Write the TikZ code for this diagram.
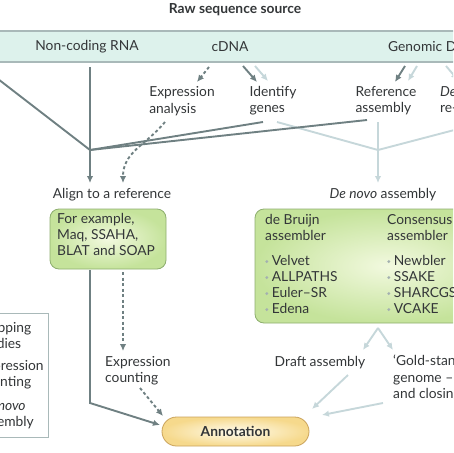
\documentclass[tikz,border=0pt]{standalone}
\usepackage{fontspec}
\setmainfont{Lato}
\usetikzlibrary{arrows.meta}
\definecolor{darkln}{HTML}{6F8082}
\definecolor{lightln}{HTML}{C6D7DA}
\definecolor{txt}{HTML}{333638}
\definecolor{bandfill}{HTML}{DDF2EC}
\definecolor{bandline}{HTML}{A9B9B9}
\definecolor{grin}{HTML}{F2F9DF}
\definecolor{grout}{HTML}{C5E39B}
\definecolor{grline}{HTML}{8DAE6E}
\definecolor{yin}{HTML}{FFFCEE}
\definecolor{yout}{HTML}{F6D98C}
\definecolor{yline}{HTML}{C9A25A}
\definecolor{bul}{HTML}{A3B0B0}
\tikzset{
  lbl/.style={text=txt, font=\fontsize{13.8}{16.3}\selectfont, inner sep=0pt, align=left},
  darkarrow/.style={draw=darkln, line width=1.9pt, -{Latex[length=7pt,width=6.5pt]}},
  darkline/.style={draw=darkln, line width=1.9pt},
  dasharrow/.style={draw=darkln, line width=1.9pt, dash pattern=on 3pt off 2.5pt, -{Latex[length=7pt,width=6.5pt]}},
  lightarrow/.style={draw=lightln, line width=1.9pt, -{Latex[length=7pt,width=6.5pt]}},
  lightline/.style={draw=lightln, line width=1.9pt},
  greenbox/.style={draw=grline, line width=0.8pt, inner color=grin, outer color=grout, rounded corners=9pt},
}
\newcommand{\bu}{\tikz[baseline=-3.8pt]\fill[bul] (0,0) circle (1.6pt);\hspace{3.5pt}}
\begin{document}
\begin{tikzpicture}[x=1pt,y=1pt]
\useasboundingbox (0,0) rectangle (453,-453);
\clip (0,0) rectangle (453,-453);
% title
\node[lbl, font=\bfseries\fontsize{13.8}{16}\selectfont] (title) at (235,-10) {Raw sequence source};
% band
\fill[bandfill] (-2,-31) rectangle (456,-62);
\draw[bandline, line width=1.2pt] (-2,-31) -- (456,-31) (-2,-62) -- (456,-62);
\node[lbl] (ncrna) at (87,-47) {Non-coding RNA};
\node[lbl] (cdna) at (230,-47) {cDNA};
\node[lbl, anchor=west] (gdna) at (388,-47) {Genomic DNA};
% second row labels
\node[lbl] (expan) at (182,-101) {Expression\\analysis};
\node[lbl] (ident) at (273,-101) {Identify\\genes};
\node[lbl] (refasm) at (386,-101) {Reference\\assembly};
\node[lbl, anchor=west] (dnseq) at (440,-101) {\textit{De novo}\\re-sequencing};
% short arrows from band
\coordinate (c1) at (209,-67); \coordinate (c1e) at (197,-82);
\coordinate (c2) at (243,-66); \coordinate (c2e) at (257,-82);
\coordinate (c3) at (255,-66); \coordinate (c3e) at (268,-81);
\coordinate (g1) at (405,-66); \coordinate (g1e) at (395,-82);
\coordinate (g2) at (417,-66); \coordinate (g2e) at (408,-81);
\coordinate (g3) at (446,-66); \coordinate (g3e) at (458,-80);
\draw[lightarrow] (c3) -- (c3e);
\draw[lightarrow] (g2) -- (g2e);
\draw[lightarrow] (g3) -- (g3e);
\draw[dasharrow] (c1) -- (c1e);
\draw[darkarrow] (c2) -- (c2e);
\draw[darkarrow] (g1) -- (g1e);
% light de novo junction
\coordinate (jl) at (378,-150);
\coordinate (idb) at (277,-122);
\coordinate (rab) at (378,-122);
\coordinate (dnb) at (462,-128);
\coordinate (dnt) at (378,-183);
\draw[lightline] (idb) -- (jl);
\draw[lightline] (rab) -- (jl);
\draw[lightline] (dnb) -- (jl);
\draw[lightarrow] (jl) -- (dnt);
% dark mapping junction
\coordinate (j1) at (90,-150);
\coordinate (ltop) at (90,-67);
\coordinate (lfree) at (-2,-79);
\coordinate (idb2) at (263,-122);
\coordinate (rab2) at (367,-120);
\coordinate (alt) at (90,-183);
\draw[darkline] (lfree) -- (j1);
\draw[darkline] (j1) -- (idb2);
\draw[darkline] (j1) -- (rab2);
\draw[darkarrow] (ltop) -- (alt);
% expression analysis dashed
\coordinate (eab) at (165,-122);
\coordinate (alt2) at (123,-183);
\draw[dasharrow] (eab) .. controls (145,-146) and (123,-152) .. (alt2);
% headings
\node[lbl] (align) at (112,-195) {Align to a reference};
\node[lbl] (dnasm) at (383,-195) {\textit{De novo} assembly};
% left green box
\node[greenbox, minimum width=116pt, minimum height=60pt, inner sep=0pt] (lbox) at (108,-239) {};
\node[lbl, anchor=north west] (ltxt) at (57,-213) {For example,\\Maq, SSAHA,\\BLAT and SOAP};
% right green box
\node[greenbox, minimum width=265pt, minimum height=114pt, inner sep=0pt] (rbox) at (387.5,-266) {};
\node[lbl, anchor=north west] (dbg) at (265,-214) {de Bruijn\\assembler};
\node[lbl, anchor=north west, font=\fontsize{13.8}{16}\selectfont] (dbgl) at (265,-255) {\bu Velvet\\\bu ALLPATHS\\\bu Euler--SR\\\bu Edena};
\node[lbl, anchor=north west] (cns) at (387,-214) {Consensus\\assembler};
\node[lbl, anchor=north west, font=\fontsize{13.8}{16}\selectfont] (cnsl) at (387,-255) {\bu Newbler\\\bu SSAKE\\\bu SHARCGS\\\bu VCAKE};
% fork below right box
\coordinate (fk) at (378,-328);
\coordinate (fkl) at (363,-350);
\coordinate (fkr) at (393,-350);
\draw[lightarrow] (fk) -- (fkl);
\draw[lightarrow] (fk) -- (fkr);
\node[lbl] (draft) at (320,-363) {Draft assembly};
\node[lbl, anchor=west] (gold) at (393,-378) {`Gold-standard'\\genome -- finishing\\and closing};
% annotation
\node[draw=yline, line width=0.8pt, inner color=yin, outer color=yout, rounded corners=14.5pt, minimum width=147pt, minimum height=29pt, text=txt, font=\bfseries\fontsize{13.8}{16}\selectfont] (annot) at (235.5,-431.5) {Annotation};
\coordinate (dra) at (348,-375);
\coordinate (drb) at (312,-409);
\coordinate (goa) at (383,-403);
\coordinate (gob) at (322,-415);
\draw[lightarrow] (dra) -- (drb);
\draw[lightarrow] (goa) -- (gob);
% left bottom
\coordinate (lb1) at (90,-270);
\coordinate (lb2) at (90,-403);
\coordinate (lb3) at (160,-425);
\draw[darkarrow] (lb1) -- (lb2) -- (lb3);
\coordinate (db1) at (123,-272);
\coordinate (db2) at (123,-351);
\draw[dasharrow] (db1) -- (db2);
\node[lbl, anchor=west] (ecount) at (105,-371) {Expression\\counting};
\coordinate (ec1) at (140,-388);
\coordinate (ec2) at (163,-416);
\draw[dasharrow] (ec1) -- (ec2);
% legend
\node[draw=bandline, line width=0.8pt, fill=white, minimum width=60pt, minimum height=124pt, inner sep=0pt] (legend) at (18,-375) {};
\node[lbl, anchor=west] (lg1) at (-22,-335.5) {Mapping\\studies};
\node[lbl, anchor=west] (lg2) at (-22,-375) {Expression\\counting};
\node[lbl, anchor=west] (lg3) at (-22,-415) {\textit{De novo}\\assembly};
\end{tikzpicture}
\end{document}
